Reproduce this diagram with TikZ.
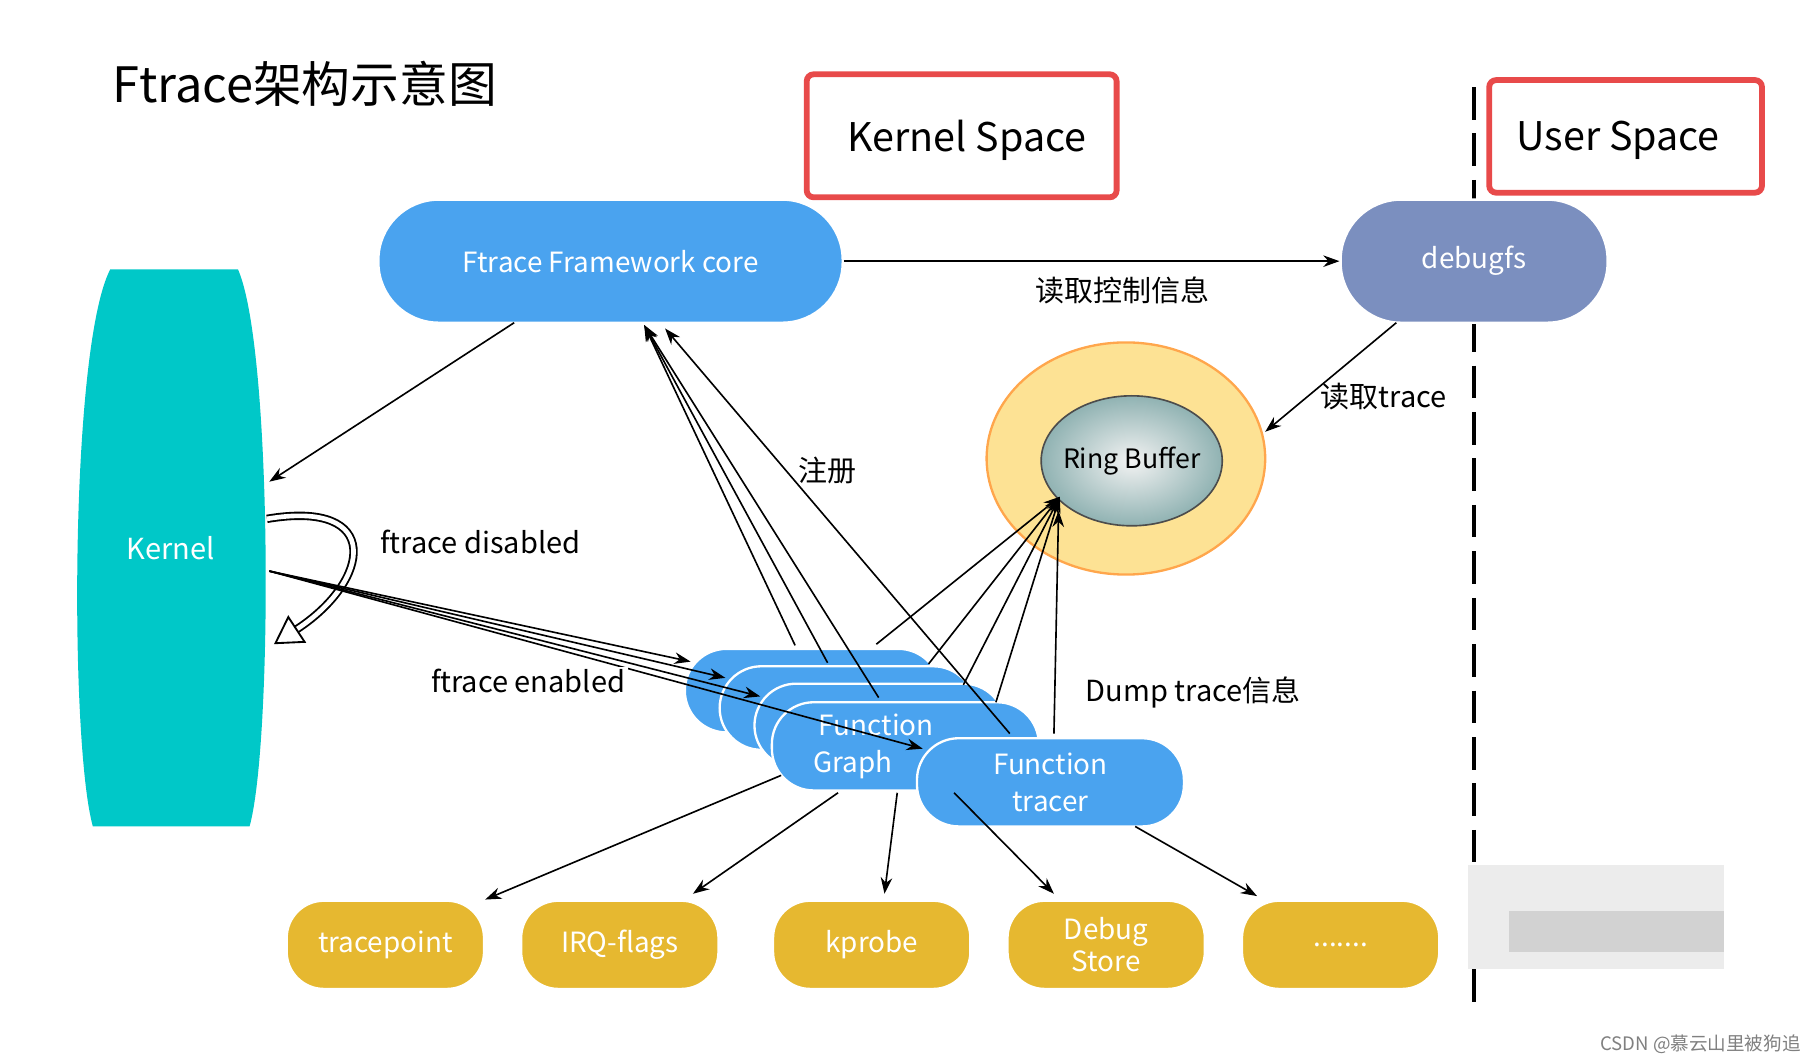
\documentclass[tikz,border=0pt]{standalone}
\usepackage{fontspec}
\setmainfont{Noto Sans CJK SC}
\usetikzlibrary{arrows.meta,shapes.geometric,calc}
\definecolor{fblue}{HTML}{4AA3EF}
\definecolor{dgray}{HTML}{7B8FBF}
\definecolor{teal1}{HTML}{00C8C8}
\definecolor{ylw}{HTML}{E6B830}
\definecolor{redb}{HTML}{E84A4A}
\tikzset{
 pill/.style={rounded corners=18pt,draw=white,line width=1pt,text=white,align=center,inner sep=0pt},
 bnode/.style={pill,fill=fblue,font=\fontsize{12}{14}\selectfont},
 ynode/.style={pill,fill=ylw,minimum width=85pt,minimum height=38pt,font=\fontsize{12}{13}\selectfont,rounded corners=16pt},
 arr/.style={-{Stealth[length=7pt,width=5pt]},line width=0.7pt},
 lab/.style={font=\fontsize{12.5}{14}\selectfont},
 redbox/.style={draw=redb,line width=2.5pt,rounded corners=3pt}
}
\begin{document}
\begin{tikzpicture}[x=0.5pt,y=-0.5pt]
\useasboundingbox (0,0) rectangle (1568,916);
\fill[white] (0,0) rectangle (1568,916);
\node[anchor=west,font=\fontsize{21}{24}\selectfont] (title) at (90,72) {Ftrace架构示意图};
\draw[redbox] (695,64) rectangle (962,170);
\node[font=\fontsize{17}{20}\selectfont] (ks) at (833,121) {Kernel Space};
\draw[redbox] (1283,69) rectangle (1518,166);
\node[font=\fontsize{17}{20}\selectfont] (us) at (1394,121) {User Space};
\draw[line width=2pt,dash pattern=on 14pt off 6pt] (1270,75) -- (1270,870);
% blurred block
\fill[gray!15] (1265,745) rectangle (1485,835);
\fill[gray!35] (1300,785) rectangle (1485,820);
% framework
\node[bnode,minimum width=200pt,minimum height=53pt,rounded corners=26pt] (fw) at (526,225) {Ftrace Framework core};
\node[bnode,fill=dgray,minimum width=115pt,minimum height=53pt,rounded corners=26pt] (dbg) at (1270,225) {debugfs};
% kernel
\fill[teal1] (95,232) .. controls (60,300) and (60,640) .. (80,712) -- (215,712) .. controls (235,640) and (235,300) .. (205,232) -- cycle;
\node[text=white,font=\fontsize{12.5}{14}\selectfont] (k) at (147,472) {Kernel};
% ring buffer
\node[ellipse,fill=yellow!50!orange!40,draw=orange!70,line width=1pt,inner sep=0pt,minimum width=120pt,minimum height=100pt] (rbo) at (970,395) {};
\node[ellipse,inner color=gray!10,outer color=teal!45!gray!60,draw=black!70,line width=0.7pt,inner sep=0pt,minimum width=78pt,minimum height=56pt] (rb) at (975,397) {};
\node[font=\fontsize{11.5}{14}\selectfont] (rbt0) at (975,397) {Ring Buffer};
% stack
\node[bnode,minimum width=110pt,minimum height=36pt] (s1) at (700,595) {};
\node[bnode,minimum width=110pt,minimum height=36pt] (s2) at (730,610) {};
\node[bnode,minimum width=108pt,minimum height=36pt] (s3) at (758,625) {};
\node[bnode,minimum width=115pt,minimum height=38pt] (fg) at (780,643) {\hspace*{-25pt}Function\\[2pt]\hspace*{-45pt}Graph};
\node[bnode,minimum width=115pt,minimum height=38pt] (ft) at (905,674) {Function\\[2pt]tracer};
% bottom
\node[ynode] (tp) at (332,814) {tracepoint};
\node[ynode] (irq) at (534,814) {IRQ-flags};
\node[ynode] (kp) at (751,814) {kprobe};
\node[ynode] (ds) at (953,814) {Debug\\[1pt]Store};
\node[ynode] (dot) at (1155,814) {.......};
% arrows
\coordinate (fwa) at (443,278);
\coordinate (ka) at (232,415);
\draw[arr] (fwa) -- (ka);
\draw[arr] (fw.east) -- (dbg.west);
\node[lab] (l1) at (967,250) {读取控制信息};
\coordinate (dba) at (1203,278); \coordinate (rba) at (1090,372);
\draw[arr] (dba) -- (rba);
\node[lab] (l2) at (1192,342) {读取trace};
\coordinate (fwb) at (555,280); \coordinate (fwc) at (573,283);
\foreach \p in {(685,556),(713,571),(757,601)} \draw[arr] \p -- (fwb);
\draw[arr] (870,632) -- (fwc);
\node[lab] (l3) at (713,405) {注册};
\coordinate (rbt) at (913,428);
\foreach \p in {(755,555),(800,572),(830,590),(858,605)} \draw[arr] \p -- (rbt);
\draw[arr] (908,632) -- (912,440);
\node[lab] (l4) at (1028,597) {Dump trace信息};
% self loop
\coordinate (k1) at (230,447); \coordinate (k2) at (236,555);
\draw[line width=0.8pt,double=white,double distance=2pt,-{Triangle[open,length=12pt,width=14pt]}] (k1) .. controls (330,430) and (320,500) .. (k2);
\node[lab] (l5) at (414,467) {ftrace disabled};
\coordinate (k3) at (232,492);
\foreach \p in {(595,570),(625,584),(655,600)} \draw[arr] (k3) -- \p;
\draw[arr] (k3) -- (795,645);
\node[lab,fill=white,inner sep=1pt] (l6) at (455,587) {ftrace enabled};
\draw[arr] (673,668) -- (tp.north east);
\draw[arr] (722,683) -- (597,770);
\draw[arr] (773,683) -- (762,770);
\draw[arr] (822,683) -- (908,770);
\draw[arr] (978,712) -- (1083,772);
\node[text=gray,font=\fontsize{8}{9}\selectfont] (wm) at (1465,900) {CSDN @慕云山里被狗追};
\end{tikzpicture}
\end{document}
